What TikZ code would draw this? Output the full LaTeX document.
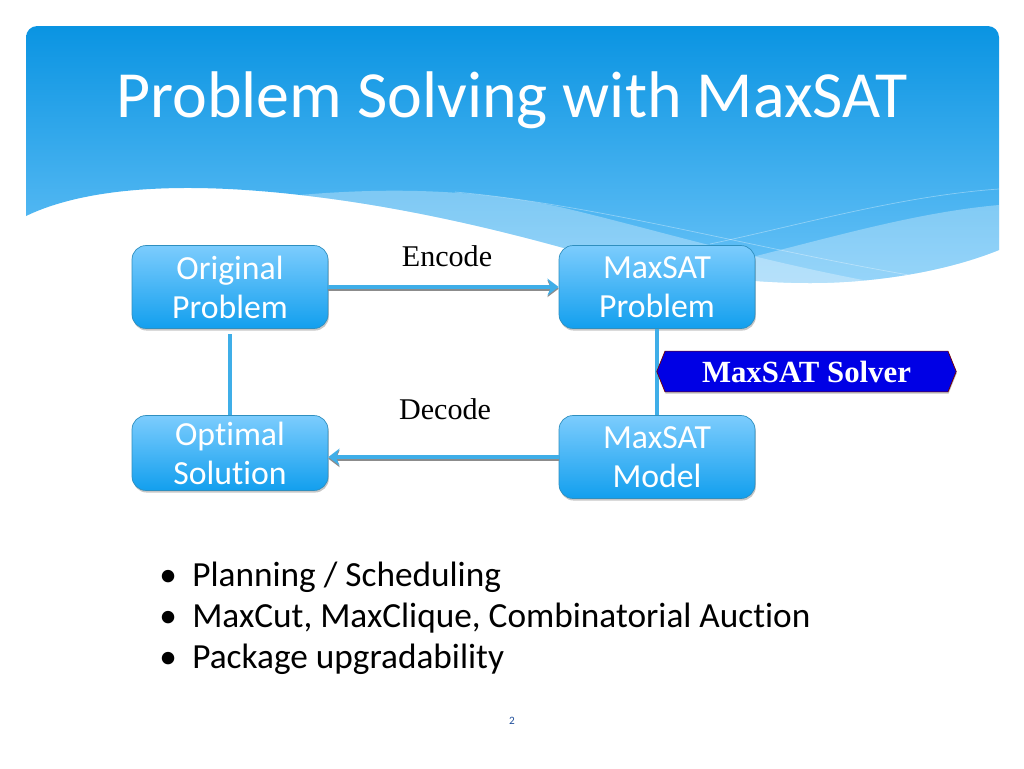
\documentclass[tikz,border=0pt]{standalone}
\usepackage{fontspec}
\setmainfont{Carlito}[Ligatures=NoCommon]
\newfontfamily\labelfont{Liberation Serif}
\usetikzlibrary{arrows.meta}
\usetikzlibrary{positioning,shadows,shapes.symbols}
\definecolor{headtop}{HTML}{0A94E2}
\definecolor{headbottom}{HTML}{6CC4F8}
\definecolor{boxtop}{HTML}{7CCCFD}
\definecolor{boxbottom}{HTML}{129FEE}
\definecolor{boxline}{HTML}{2F8FBF}
\definecolor{linkblue}{HTML}{3FAEE8}
\definecolor{pagenum}{HTML}{1F4E9A}
\tikzset{
	probbox/.style={draw=boxline,line width=0.5pt,rounded corners=10pt,top color=boxtop,bottom color=boxbottom,
		text=white,minimum width=139.4pt,minimum height=59pt,inner sep=0pt,align=center,font=\fontsize{24}{27.7}\selectfont,
		drop shadow={shadow xshift=0.6pt,shadow yshift=-1.5pt,opacity=.45}},
	link/.style={draw=linkblue,line width=2.6pt},
	arrowlink/.style={link,-{Stealth[length=8pt,width=12pt]},
		preaction={draw=black!45,line width=2.6pt,transform canvas={yshift=-1.2pt},-{Stealth[length=8pt,width=12pt]}}},
	steplabel/.style={font=\labelfont\fontsize{21.4}{24}\selectfont,text=black,inner sep=0pt}
}
\begin{document}
\begin{tikzpicture}[x=0.25mm,y=-0.25mm]
	\useasboundingbox (0,0) rectangle (1024,768);
	% header
	\begin{scope}
		\clip[rounded corners=8pt] (26,26) rectangle (999,300);
		\clip (26,26) -- (26,216) .. controls (80,190) and (170,180) .. (300,195)
			.. controls (390,205) and (480,225) .. (560,247)
			.. controls (630,265) and (720,283) .. (810,283)
			.. controls (880,283) and (950,270) .. (999,250) -- (999,26) -- cycle;
		\shade[top color=headtop,bottom color=headbottom] (26,26) rectangle (999,290);
		\fill[white,opacity=.3] (300,195) .. controls (380,188) and (470,188) .. (560,207)
			.. controls (650,228) and (760,262) .. (890,285) -- (300,290) -- cycle;
		\fill[white,opacity=.3] (999,205) .. controls (920,212) and (840,235) .. (760,255)
			.. controls (730,263) and (710,275) .. (690,290) -- (999,290) -- cycle;
		\draw[white,opacity=.35,line width=0.5pt] (999,189) .. controls (900,196) and (800,225) .. (710,244);
		\draw[white,opacity=.35,line width=0.5pt] (455,192) .. controls (600,205) and (760,250) .. (915,276);
	\end{scope}
	\node[text=white,font=\fontsize{46.9}{50}\selectfont,inner sep=0pt] (title) at (512,100) {Problem Solving with MaxSAT};
	% the four boxes
	\node[probbox] (orig) at (230,287) {Original\\Problem};
	\node[probbox] (maxprob) at (657,287) {MaxSAT\\Problem};
	\node[probbox] (maxmodel) at (657,457) {MaxSAT\\Model};
	\node[probbox,minimum height=53.3pt] (opt) at (230,453) {Optimal\\Solution};
	% connectors
	\draw[arrowlink] (orig.east) -- (maxprob.west);
	\draw[arrowlink] (maxmodel.west) -- (maxmodel.west -| opt.east);
	\draw[link] (maxprob.south) -- (maxmodel.north);
	\draw[link] ([yshift=-4pt]orig.south) -- (opt.north);
	\node[steplabel] (enc) at (447,256) {Encode};
	\node[steplabel] (dec) at (445,409) {Decode};
	\node[signal,signal to=west and east,signal pointer angle=136,draw=red!45!black,line width=0.5pt,fill=blue!90!black,
		text=white,minimum width=213pt,minimum height=29pt,inner sep=0pt,font=\labelfont\bfseries\fontsize{21.9}{24}\selectfont,
		drop shadow={shadow xshift=0.4pt,shadow yshift=-1.2pt,opacity=.5}] (solver) at (806.5,371.5) {MaxSAT Solver};
	% bullets
	\node[anchor=west,align=left,inner sep=0pt,font=\fontsize{25.1}{29.2}\selectfont] (apps) at (159,618)
		{\textbullet\hspace{11pt}Planning / Scheduling\\ \textbullet\hspace{11pt}MaxCut, MaxClique, Combinatorial Auction\\ \textbullet\hspace{11pt}Package upgradability};
	\node[text=pagenum,font=\fontsize{8}{10}\selectfont,inner sep=0pt] (pageno) at (512,721) {2};
\end{tikzpicture}
\end{document}
